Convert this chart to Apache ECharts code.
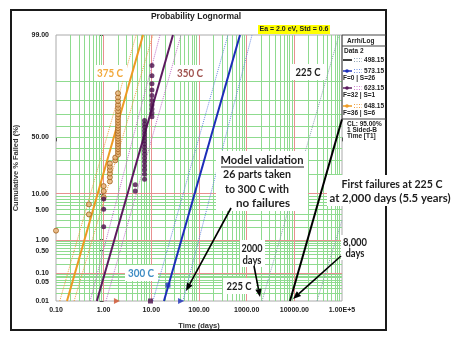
<!DOCTYPE html>
<html><head><meta charset="utf-8">
<script src="https://cdn.jsdelivr.net/npm/echarts@6/dist/echarts.min.js"></script>
<style>html,body{margin:0;padding:0;background:#fff}#c{width:474px;height:356px}</style>
</head><body><div id="c"></div>
<script>
// ---------- data ----------
const xTickLabels = ['0.10','1.00','10.00','100.00','1000.00','10000.00','1.00E+5'];
const yTickPct    = [99, 50, 10, 5, 1, 0.5, 0.1, 0.05, 0.01];
const yTickLabels = ['99.00','50.00','10.00','5.00','1.00','0.50','0.10','0.05','0.01'];

const legendTemps  = ['498.15','573.15','623.15','648.15'];
const legendCounts = ['F=0 | S=26','F=32 | S=1','F=36 | S=6'];

// fitted lognormal lines (days, % failed)
const fit225Days = [8100, 100000]; const fit225Pct = [0.01, 66];
const fit300Days = [18.4, 724];    const fit300Pct = [0.01, 99];
const fit350Days = [0.72, 28.4];   const fit350Pct = [0.01, 99];
const fit375Days = [0.17, 6.7];    const fit375Pct = [0.01, 99];

// confidence bounds (dotted)
const boundPct   = [0.01, 99];
const lo225Days  = [2100, 86500];
const hi225Days  = [29900, 100000]; const hi225Pct = [0.01, 3];
const lo300Days  = [10.8, 405];
const hi300Days  = [46, 1294];
const lo350Days  = [0.52, 15.2];
const hi350Days  = [1.12, 41.9];
const lo375Days  = [0.12, 4.8];
const hi375Days  = [0.24, 10.8];

// failures
const fail375Days = [0.10,0.49,0.49,1.0,1.0,1.0,1.35,1.35,1.35,1.35,1.35,1.35,1.75,1.75,
  2.0,2.0,2.0,2.0,2.0,2.0,2.0,2.0,2.0,2.0,2.0,2.0,2.0,2.0,2.0,2.0,2.0,2.0,2.0,2.0,2.0,2.0];
const fail375Pct  = [1.7,4.0,6.4,8.7,11.1,13.4,15.8,18.2,20.5,22.9,25.2,27.6,30.0,32.3,
  34.7,37.0,39.4,41.7,44.1,46.5,48.8,51.2,53.5,55.9,58.3,60.6,63.0,65.3,67.7,70.0,72.4,74.8,77.1,79.5,81.8,84.2];
const fail350Days = [1.0,1.0,1.0,4.6,4.6,
  7.2,7.2,7.2,7.2,7.2,7.2,7.2,7.2,7.2,7.2,7.2,7.2,7.2,7.2,7.2,7.2,7.2,
  10.3,10.3,10.3,10.3,10.3,10.3,10.3,10.3,10.3,10.3];
const fail350Pct  = [2.1,5.1,8.1,11.1,14.1,
  17.1,20.1,23.1,26.0,29.0,32.0,35.0,38.0,41.0,44.0,47.0,50.0,53.0,56.0,59.0,62.0,65.0,
  68.0,71.0,74.0,76.9,79.9,82.9,85.9,88.9,91.9,94.9];

// suspensions / markers at the bottom
const susp375Days = [1.9];  const susp375Pct = [0.01];
const susp350Days = [9.6];  const susp350Pct = [0.01];
const susp300Days = [42];   const susp300Pct = [0.01];
const mark300Days = [22.3]; const mark300Pct = [0.039];

// ---------- probability-paper transform ----------
function probit(p){
  const a=[-3.969683028665376e+01,2.209460984245205e+02,-2.759285104469687e+02,1.383577518672690e+02,-3.066479806614716e+01,2.506628277459239e+00];
  const b=[-5.447609879822406e+01,1.615858368580409e+02,-1.556989798598866e+02,6.680131188771972e+01,-1.328068155288572e+01];
  const c=[-7.784894002430293e-03,-3.223964580411365e-01,-2.400758277161838e+00,-2.549671071480670e+00,4.374664141464968e+00,2.938163982698783e+00];
  const d=[7.784695709041462e-03,3.224671290700398e-01,2.445134137142996e+00,3.754408661907416e+00];
  const pl=0.02425, ph=1-pl; let q,r;
  if(p<pl){q=Math.sqrt(-2*Math.log(p));return (((((c[0]*q+c[1])*q+c[2])*q+c[3])*q+c[4])*q+c[5])/((((d[0]*q+d[1])*q+d[2])*q+d[3])*q+1);}
  if(p<=ph){q=p-0.5;r=q*q;return (((((a[0]*r+a[1])*r+a[2])*r+a[3])*r+a[4])*r+a[5])*q/(((((b[0]*r+b[1])*r+b[2])*r+b[3])*r+b[4])*r+1);}
  q=Math.sqrt(-2*Math.log(1-p));return -(((((c[0]*q+c[1])*q+c[2])*q+c[3])*q+c[4])*q+c[5])/((((d[0]*q+d[1])*q+d[2])*q+d[3])*q+1);
}
const zOf = pct => probit(pct/100);
const pts = (days, pct) => days.map((t,i)=>[Math.log10(t), zOf(pct[i])]);
const zMin = zOf(0.01), zMax = zOf(99);
const yTickZ = yTickPct.map(zOf);

// ---------- grid lines ----------
const gl = [];
const GREEN='#8fdb8f', RED='#e89090';
for(let dcd=-1; dcd<=4; dcd++) for(let k=2;k<=9;k++) gl.push({xAxis:Math.log10(k)+dcd, lineStyle:{color:GREEN}});
const yGreen=[90,80,70,60,50,40,30,20,9,8,7,6,5,4,3,2,0.9,0.8,0.7,0.6,0.5,0.4,0.3,0.2,0.09,0.08,0.07,0.06,0.05,0.04,0.03,0.02];
yGreen.forEach(p=>gl.push({yAxis:zOf(p), lineStyle:{color:GREEN}}));
[0,1,2,3,4].forEach(v=>gl.push({xAxis:v, lineStyle:{color:RED}}));
[10,1,0.1,0.01].forEach(p=>gl.push({yAxis:zOf(p), lineStyle:{color:RED}}));

// ---------- graphics helpers ----------
const F_ANN = 'bold 12px Lato, "Open Sans", sans-serif';
const mctx = document.createElement('canvas').getContext('2d');
function T(s,x,y,font,color,align,z){
  return {type:'text', z:z||120, style:{text:s, x:x, y:y, font:font, fill:color||'#1a1a1a',
    align:align||'center', textAlign:align||'center', verticalAlign:'middle', textVerticalAlign:'middle'}};
}
// annotation text squeezed to the width it has in the picture
function TW(s,cx,cy,targetW,color){
  mctx.font = F_ANN;
  const w = mctx.measureText(s).width || targetW;
  return {type:'text', z:120, x:cx, y:cy, scaleX:targetW/w, scaleY:1,
    style:{text:s, x:0, y:0, font:F_ANN, fill:color||'#1e1e1e',
      align:'center', textAlign:'center', verticalAlign:'middle', textVerticalAlign:'middle'}};
}
function R(x,y,w,h,fill,stroke,lw,z){
  return {type:'rect', z:z||110, shape:{x:x,y:y,width:w,height:h}, style:{fill:fill||'#fff', stroke:stroke||null, lineWidth:lw||0}};
}
function L(x1,y1,x2,y2,color,lw,dash,z){
  const s={stroke:color||'#000', lineWidth:lw||1};
  if(dash) s.lineDash=dash;
  return {type:'line', z:z||115, shape:{x1:x1,y1:y1,x2:x2,y2:y2}, style:s};
}
function A(x1,y1,x2,y2){
  const ang=Math.atan2(y2-y1,x2-x1), Ln=8, H=3.2;
  const bx=x2-Ln*Math.cos(ang), by=y2-Ln*Math.sin(ang);
  const px=-Math.sin(ang)*H, py=Math.cos(ang)*H;
  return [L(x1,y1,bx,by,'#000',1.6,null,125),
    {type:'polygon', z:125, shape:{points:[[x2,y2],[bx+px,by+py],[bx-px,by-py]]}, style:{fill:'#000'}}];
}

const g = [];
// outer frame
g.push({type:'rect', z:100, shape:{x:11,y:10,width:375,height:320}, style:{fill:'none', stroke:'#1a1a1a', lineWidth:2}});
// title
g.push(T('Probability Lognormal',196,17,'bold 8.5px "Liberation Sans", Arial, sans-serif','#222'));
g.push(R(258,25,72,9,'#ffff00'));
g.push(T('Ea = 2.0 eV, Std = 0.6',294,29.5,'bold 7px "Liberation Sans", Arial, sans-serif','#222'));
// legend box
const LF='bold 6.5px "Liberation Sans", Arial, sans-serif';
g.push(L(342,35,386,35,'#444',1,null,101));
g.push(L(342,35,342,120,'#444',1,null,101));
g.push(L(342,46,386,46,'#444',1,null,101));
g.push(L(342,119,386,119,'#444',1,null,101));
g.push(T('Arrh/Log',347,41,LF,'#222','left'));
g.push(T('Data 2',344,51,LF,'#222','left'));
const legCol=['#000','#1c2db8','#5b1a5e','#ee9a22'];
const legDot=['#8aa0b0','#7090e0','#d080d0','#f0a040'];
const legY=[60,71,88,106];
legY.forEach((y,i)=>{
  g.push(L(343,y,352,y,legCol[i],1.5,null,116));
  if(i>0) g.push({type:'circle', z:117, shape:{cx:347,cy:y,r:1.8}, style:{fill:legCol[i]}});
  g.push(L(354,y-1.5,362,y-1.5,legDot[i],1,[1,1.5],116));
  g.push(L(354,y+1.5,362,y+1.5,legDot[i],1,[1,1.5],116));
  g.push(T(legendTemps[i],384,y,LF,'#222','right'));
  if(i>0) g.push(T(legendCounts[i-1],343,y+7.5,LF,'#222','left'));
});
g.push(T('CL: 95.00%',347,124,LF,'#222','left'));
g.push(T('1 Sided-B',347,130,LF,'#222','left'));
g.push(T('Time [T1]',347,136,LF,'#222','left'));

// temperature labels
g.push(R(94,65,33,16)); g.push(TW('375 C',110,73,26,'#f2a93b'));
g.push(R(174,65,33,16)); g.push(TW('350 C',190,73,26,'#a0524f'));
g.push(R(292,64,33,16)); g.push(TW('225 C',308,72,25,'#1e1e1e'));
g.push(R(125,265,33,16)); g.push(TW('300 C',141,273,26,'#3f8dc4'));
g.push(R(223,278,33,16)); g.push(TW('225 C',239,286,25,'#1e1e1e'));
// 2000 days
g.push(R(240,240,25,27)); g.push(TW('2000',252,248,21)); g.push(TW('days',252,260,19));
// 8,000 days
g.push(R(341,235,30,25)); g.push(TW('8,000',355,242,24)); g.push(TW('days',355,253,19));
// model validation box
g.push(R(216,151,92,60));
g.push(TW('Model validation',262,160,83)); g.push(L(221,167,304,167,'#1e1e1e',1,null,121));
g.push(TW('26 parts taken',257,174,68));
g.push(TW('to 300 C with',257,189,64));
g.push(TW('no failures',263,203,54));
// first failures box
g.push(R(327,175,128,31));
g.push(TW('First failures at 225 C',392,184,101));
g.push(TW('at 2,000 days (5.5 years)',390,198,121));
// arrows
A(231,208,186,291).forEach(e=>g.push(e));
A(254,266,260,297).forEach(e=>g.push(e));
A(341,256,293,299).forEach(e=>g.push(e));

// ---------- chart ----------
const lineS = (name,d,p,color,w,type) => ({name:name,type:'line',data:pts(d,p),showSymbol:false,
  lineStyle:{color:color,width:w,type:type||'solid'},z:type?3:4,silent:true});
const chart = echarts.init(document.getElementById('c'), null, {renderer:'canvas'});
const tickFont = {fontSize:7, fontWeight:'bold', color:'#222', fontFamily:'"Liberation Sans", Arial, sans-serif'};
chart.setOption({
  animation:false,
  backgroundColor:'#fff',
  grid:{left:56, top:35, width:286, height:266, show:true, borderColor:'#aaa', borderWidth:1, backgroundColor:'#fff'},
  xAxis:{type:'value', min:-1, max:5, interval:1,
    axisLine:{show:false}, splitLine:{show:false},
    axisTick:{show:true, length:4, lineStyle:{color:'#555'}},
    axisLabel:Object.assign({margin:6, formatter:v=>xTickLabels[Math.round(v)+1]}, tickFont),
    name:'Time (days)', nameLocation:'middle', nameGap:21,
    nameTextStyle:{fontSize:7.5, fontWeight:'bold', color:'#333', fontFamily:'"Liberation Sans", Arial, sans-serif'}},
  yAxis:{type:'value', min:zMin, max:zMax,
    axisLine:{show:false}, splitLine:{show:false},
    axisTick:{show:true, length:4, customValues:yTickZ, lineStyle:{color:'#555'}},
    axisLabel:Object.assign({margin:7, customValues:yTickZ, formatter:v=>{
      let bi=0,bd=1e9; yTickZ.forEach((z,i)=>{const dd=Math.abs(z-v); if(dd<bd){bd=dd;bi=i;}}); return yTickLabels[bi];}}, tickFont),
    name:'Cumulative % Failed (%)', nameLocation:'middle', nameGap:36,
    nameTextStyle:{fontSize:7.5, fontWeight:'bold', color:'#333', fontFamily:'"Liberation Sans", Arial, sans-serif'}},
  graphic:{elements:g},
  series:[
    {type:'line', data:[], z:1, silent:true,
     markLine:{z:1, silent:true, symbol:['none','none'], label:{show:false}, animation:false,
       lineStyle:{type:'solid', width:1}, emphasis:{disabled:true}, data:gl}},
    lineS('lo375',lo375Days,boundPct,'#f0a040',1,'dotted'),
    lineS('hi375',hi375Days,boundPct,'#f0a040',1,'dotted'),
    lineS('lo350',lo350Days,boundPct,'#c070c8',1,'dotted'),
    lineS('hi350',hi350Days,boundPct,'#c070c8',1,'dotted'),
    lineS('lo300',lo300Days,boundPct,'#6a8de0',1,'dotted'),
    lineS('hi300',hi300Days,boundPct,'#6a8de0',1,'dotted'),
    lineS('lo225',lo225Days,boundPct,'#8aa0b0',1,'dotted'),
    lineS('hi225',hi225Days,hi225Pct,'#8aa0b0',1,'dotted'),
    lineS('375 C',fit375Days,fit375Pct,'#ee9a22',2),
    lineS('350 C',fit350Days,fit350Pct,'#5b1a5e',2),
    lineS('300 C',fit300Days,fit300Pct,'#1c2db8',2),
    lineS('225 C',fit225Days,fit225Pct,'#000',2),
    {type:'scatter', data:pts(fail375Days,fail375Pct), symbol:'circle', symbolSize:5, z:6, silent:true,
     itemStyle:{color:'#eab274', borderColor:'#a0601a', borderWidth:1}},
    {type:'scatter', data:pts(fail350Days,fail350Pct), symbol:'circle', symbolSize:5, z:7, silent:true,
     itemStyle:{color:'#4a0f4c'}},
    {type:'scatter', data:pts(susp375Days,susp375Pct), symbol:'triangle', symbolRotate:-90, symbolSize:6, z:7, silent:true, clip:false,
     itemStyle:{color:'#d0502a'}},
    {type:'scatter', data:pts(susp350Days,susp350Pct), symbol:'rect', symbolSize:5, z:7, silent:true, clip:false,
     itemStyle:{color:'#4a0f4c'}},
    {type:'scatter', data:pts(susp300Days,susp300Pct), symbol:'triangle', symbolRotate:-90, symbolSize:6, z:7, silent:true, clip:false,
     itemStyle:{color:'#1c2db8'}},
    {type:'scatter', data:pts(mark300Days,mark300Pct), symbol:'rect', symbolSize:5, z:7, silent:true,
     itemStyle:{color:'#1c2db8'}}
  ]
});
</script></body></html>
